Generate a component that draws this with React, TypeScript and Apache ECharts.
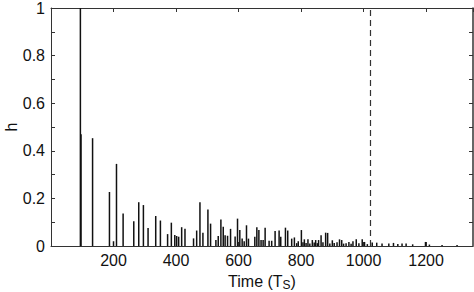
import React, { useEffect, useRef } from "react";
import * as echarts from "echarts";

const times: number[] = [
  94, 96, 133, 187, 200, 209.5, 230.7, 264.8, 280.7, 295.6, 310.5, 335, 350, 373, 385, 396, 402, 408.4, 418, 428.6,
  456, 466, 476.5, 486, 502, 510.5, 527.5, 535, 543.5, 551, 557, 564.8, 574.4, 589, 596.7, 604, 611.5, 618, 625.4, 631.7,
  652, 658.5, 665, 672, 678.6, 685, 697.7, 706, 716.9, 729.7, 735, 750, 757.3, 770, 778.6, 791, 801, 810.5, 822, 836,
  846.7, 856, 864, 878.6, 885, 900, 923, 930, 953, 966, 976.5, 995.6, 1003, 1027.6, 1042, 1059, 1080.7, 1095.6, 1109.5, 1123,
  1136, 1157, 1198, 1210.5, 1251, 1299,
  786, 806, 816, 828, 842, 852, 870, 892, 906, 915, 936, 944, 960, 985, 1012,
];
const heights: number[] = [
  1, 0.47, 0.453, 0.227, 0.02, 0.345, 0.137, 0.104, 0.184, 0.172, 0.076, 0.126, 0.107, 0.05, 0.098, 0.046, 0.042, 0.039, 0.079, 0.072,
  0.032, 0.065, 0.184, 0.056, 0.153, 0.094, 0.025, 0.042, 0.111, 0.081, 0.045, 0.043, 0.072, 0.04, 0.115, 0.067, 0.031, 0.02, 0.087, 0.031,
  0.039, 0.079, 0.067, 0.025, 0.025, 0.077, 0.022, 0.022, 0.063, 0.065, 0.039, 0.077, 0.065, 0.031, 0.036, 0.02, 0.067, 0.028, 0.028, 0.025,
  0.025, 0.025, 0.045, 0.056, 0.055, 0.024, 0.028, 0.025, 0.017, 0.02, 0.028, 0.028, 0.017, 0.015, 0.014, 0.011, 0.011, 0.013, 0.008, 0.01,
  0.01, 0.007, 0.017, 0.006, 0.004, 0.004,
  0.012, 0.016, 0.013, 0.01, 0.015, 0.012, 0.016, 0.01, 0.013, 0.016, 0.01, 0.012, 0.009, 0.012, 0.008,
];
const xTicks: number[] = [200, 400, 600, 800, 1000, 1200];
const yLabels: number[] = [0, 0.2, 0.4, 0.6, 0.8, 1];
const thresholdTime = 1022;

export default function App() {
  const ref = useRef<HTMLDivElement>(null);
  useEffect(() => {
    if (!ref.current) return;
    const chart = echarts.init(ref.current, null, { renderer: "svg" });
    const font = "'Liberation Sans', Arial, sans-serif";
    const axisCol = "#333";
    const data = times.map((t, i) => [t, heights[i]]);
    chart.setOption({
      animation: false,
      grid: { left: 51, right: 1, top: 8, bottom: 46, show: false, containLabel: false, outerBoundsMode: "none" },
      xAxis: [
        {
          type: "value",
          min: 0,
          max: 1350,
          interval: 200,
          position: "bottom",
          axisLine: { show: true, onZero: false, lineStyle: { color: axisCol, width: 1 } },
          axisTick: { show: true, inside: true, length: 4, lineStyle: { color: axisCol } },
          splitLine: { show: false },
          axisLabel: {
            fontFamily: font,
            fontSize: 16,
            color: "#111",
            margin: 6,
            showMinLabel: false,
            showMaxLabel: false,
            formatter: (v: number) => (xTicks.includes(v) ? String(v) : ""),
          },
          name: "Time (T{sub|S})",
          nameLocation: "middle",
          nameGap: 26,
          nameMoveOverlap: false,
          nameTextStyle: {
            fontFamily: font,
            fontSize: 16,
            color: "#111",
            rich: { sub: { fontFamily: font, fontSize: 12, color: "#111", padding: [7, 0, 0, 0] } },
          },
        },
        {
          type: "value",
          min: 0,
          max: 1350,
          interval: 200,
          position: "top",
          axisLine: { show: true, onZero: false, lineStyle: { color: axisCol, width: 1 } },
          axisTick: { show: true, inside: true, length: 4, lineStyle: { color: axisCol } },
          axisLabel: { show: false },
          splitLine: { show: false },
        },
      ],
      yAxis: [
        {
          type: "value",
          min: 0,
          max: 1,
          interval: 0.1,
          position: "left",
          axisLine: { show: true, onZero: false, lineStyle: { color: axisCol, width: 1 } },
          axisTick: { show: true, inside: true, length: 4, lineStyle: { color: axisCol } },
          splitLine: { show: false },
          axisLabel: {
            fontFamily: font,
            fontSize: 16,
            color: "#111",
            margin: 6,
            formatter: (v: number) => {
              const r = Math.round(v * 10) / 10;
              return yLabels.some((l) => Math.abs(l - r) < 1e-6) ? String(r) : "";
            },
          },
          name: "h",
          nameLocation: "middle",
          nameGap: 32,
          nameMoveOverlap: false,
          nameTextStyle: { fontFamily: font, fontSize: 16, color: "#111" },
        },
        {
          type: "value",
          min: 0,
          max: 1,
          interval: 0.1,
          position: "right",
          axisLine: { show: true, onZero: false, lineStyle: { color: axisCol, width: 1.5 } },
          axisTick: { show: true, inside: true, length: 4, lineStyle: { color: axisCol } },
          axisLabel: { show: false },
          splitLine: { show: false },
        },
      ],
      series: [
        {
          type: "bar",
          xAxisIndex: 0,
          yAxisIndex: 0,
          data,
          barWidth: 1.5,
          itemStyle: { color: "#111" },
          markLine: {
            silent: true,
            symbol: "none",
            label: { show: false },
            lineStyle: { color: "#333", type: [6, 4], width: 1.2 },
            data: [{ xAxis: thresholdTime }],
          },
        },
      ],
    });
    return () => chart.dispose();
  }, []);
  return (
    <div
      ref={ref}
      style={{ position: "absolute", left: 0, top: 0, width: 474, height: 292, background: "#fff" }}
    />
  );
}
